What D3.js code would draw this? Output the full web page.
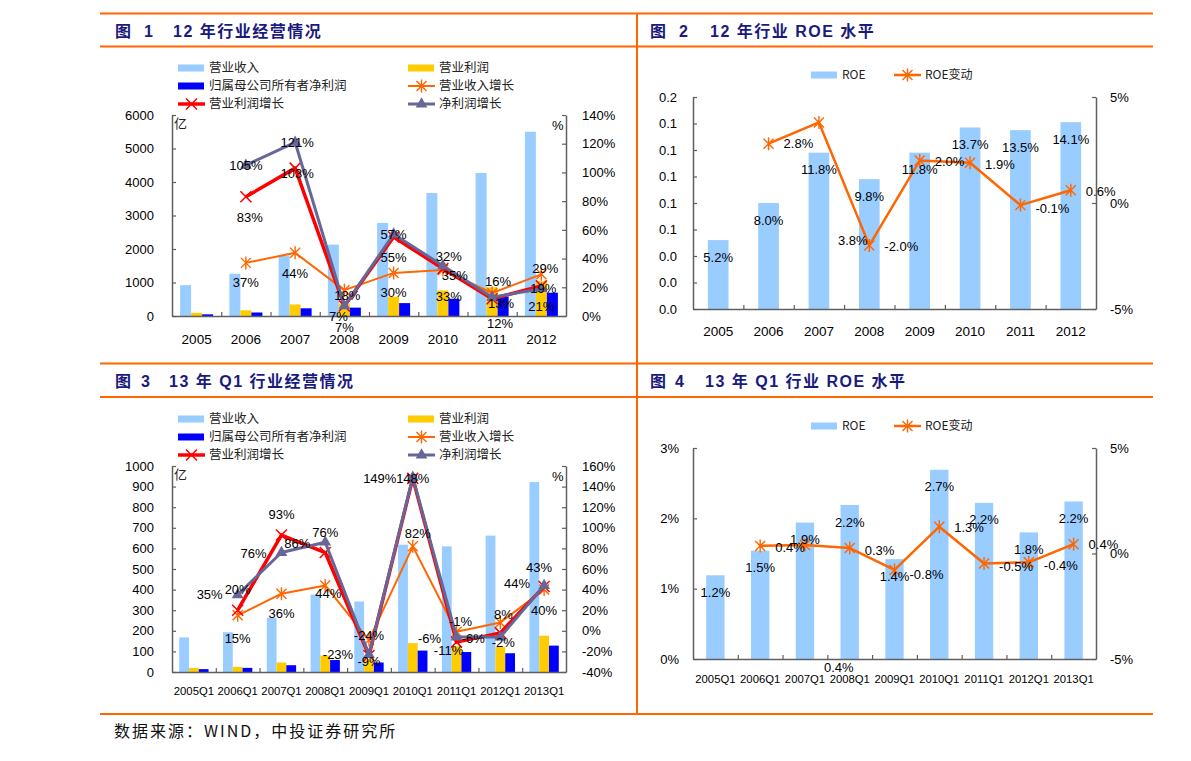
<!DOCTYPE html>
<html>
<head>
<meta charset="utf-8">
<script src="https://cdn.jsdelivr.net/npm/d3@7"></script>
<style>
  body { margin: 0; background: #fff; }
  svg { display: block; font-family: "Liberation Sans", Arial, "Noto Sans CJK SC", sans-serif; }
</style>
</head>
<body>
<svg id="chart"></svg>
<script>
// ---- data ----
let years = ['2005', '2006', '2007', '2008', '2009', '2010', '2011', '2012'];
let revenue12 = [920, 1260, 1800, 2130, 2780, 3670, 4270, 5500];
let opProfit12 = [95, 170, 345, 370, 575, 765, 860, 1040];
let netProfit12 = [50, 105, 230, 250, 385, 515, 580, 695];
let revGrowth12 = [null, 37, 44, 18, 30, 32, 16, 29];
let opGrowth12 = [null, 83, 103, 7, 55, 33, 12, 21];
let netGrowth12 = [null, 105, 121, 7, 57, 35, 13, 19];

let quarters = ['2005Q1', '2006Q1', '2007Q1', '2008Q1', '2009Q1', '2010Q1', '2011Q1', '2012Q1', '2013Q1'];
let revenue13 = [168, 193, 263, 376, 342, 618, 610, 662, 922];
let opProfit13 = [20, 25, 46, 80, 61, 140, 125, 122, 176];
let netProfit13 = [14, 20, 33, 58, 46, 104, 97, 91, 128];
let revGrowth13 = [null, 15, 36, 44, -9, 82, -1, 8, 40];
let opGrowth13 = [null, 20, 93, 76, -24, 148, -11, -2, 43];
let netGrowth13 = [null, 35, 76, 86, -23, 149, -6, -6, 44];

let roe12 = [0.052, 0.080, 0.118, 0.098, 0.118, 0.137, 0.135, 0.141];
let roeChange12 = [null, 2.8, 3.8, -2.0, 2.0, 1.9, -0.1, 0.6];

let roe13 = [1.19, 1.54, 1.94, 2.19, 1.42, 2.69, 2.22, 1.80, 2.24];
let roeChange13 = [null, 0.36, 0.40, 0.26, -0.78, 1.27, -0.47, -0.42, 0.44];

// ---- styles ----
let width = 1191;
let height = 761;
let ORANGE = '#FF6600';
let NAVY = '#1a1a7e';
let LIGHT = '#99CCFF';
let YELLOW = '#FFCC00';
let BLUE = '#0000FF';
let RED = '#FF0000';
let PURPLE = '#666699';
let AXIS = '#5f5f5f';
let CJK = '"Noto Sans CJK SC", sans-serif';

let svg = d3.select('#chart').attr('width', width).attr('height', height);

// ---- frame ----
let drawFrame = () => {
  let g = svg.append('g').attr('stroke', ORANGE).attr('stroke-width', 2);
  [[100, 13.5, 1153, 13.5], [100, 46.5, 1153, 46.5], [100, 363.5, 1153, 363.5],
   [100, 397, 1153, 397], [100, 714, 1153, 714], [637, 13.5, 637, 714]].forEach(l => {
    g.append('line').attr('x1', l[0]).attr('y1', l[1]).attr('x2', l[2]).attr('y2', l[3]);
  });
};

let drawTitle = (x, numX, restX, y, num, rest) => {
  let t = svg.append('text').attr('y', y).attr('dy', '0.35em')
    .attr('fill', NAVY).attr('font-weight', 'bold').attr('font-size', 16);
  t.append('tspan').attr('x', x).attr('font-family', CJK).text('图');
  t.append('tspan').attr('x', numX).text(num);
  t.append('tspan').attr('x', restX).attr('letter-spacing', 1.5).text(rest);
};

let drawMarker = (sel, type, color) => {
  if (type === 'star') {
    sel.append('path').attr('d', 'M-5,-5L5,5M-5,5L5,-5M0,-6.5L0,6.5')
      .attr('stroke', color).attr('stroke-width', 1.4).attr('fill', 'none');
  } else if (type === 'x') {
    sel.append('path').attr('d', 'M-5.5,-5.5L5.5,5.5M-5.5,5.5L5.5,-5.5')
      .attr('stroke', color).attr('stroke-width', 1.5).attr('fill', 'none');
  } else if (type === 'tri') {
    sel.append('path').attr('d', d3.symbol(d3.symbolTriangle, 60)())
      .attr('fill', color);
  }
};

let legendItem = (g, item, x, y, fontSize) => {
  if (item.kind === 'bar') {
    g.append('rect').attr('x', x).attr('y', y - 3.5).attr('width', 26).attr('height', 7)
      .attr('fill', item.color);
  } else {
    g.append('line').attr('x1', x).attr('x2', x + 27).attr('y1', y).attr('y2', y)
      .attr('stroke', item.color).attr('stroke-width', item.width);
    drawMarker(g.append('g').attr('transform', 'translate(' + (x + 13.5) + ',' + y + ')'),
      item.marker, item.color);
  }
  g.append('text').attr('x', x + 31).attr('y', y).attr('dy', '0.35em')
    .attr('font-family', CJK).attr('font-size', fontSize).attr('fill', '#222')
    .text(item.name);
};

let styleAxis = (g, fontSize) => {
  g.select('.domain').attr('stroke', AXIS).attr('stroke-width', 1.5);
  g.selectAll('.tick line').attr('stroke', AXIS).attr('stroke-width', 1.2);
  g.selectAll('text').attr('font-size', fontSize).attr('fill', '#000')
    .attr('font-family', '"Liberation Sans", Arial, sans-serif');
};

let drawCategoryAxis = (cats, left, right, bottom, labelOffset, fontSize) => {
  let n = cats.length;
  let edge = d3.scaleLinear().domain([0, n]).range([left, right]);
  let gx = svg.append('g').attr('transform', 'translate(0,' + bottom + ')')
    .call(d3.axisBottom(edge).tickValues(d3.range(1, n)).tickSizeInner(-4).tickSizeOuter(0).tickFormat(''));
  styleAxis(gx, fontSize);
  let band = d3.scaleBand().domain(cats).range([left, right]);
  let gl = svg.append('g').attr('transform', 'translate(0,' + bottom + ')')
    .call(d3.axisBottom(band).tickSize(0));
  gl.select('.domain').remove();
  styleAxis(gl, fontSize);
  gl.selectAll('text').attr('y', labelOffset).attr('dy', '0.35em');
};

// ---- combo chart (bars on left axis, growth lines on right axis) ----
let drawCombo = cfg => {
  let xg = d3.scaleBand().domain(cfg.cats).range([cfg.left, cfg.right])
    .paddingInner(0.33).paddingOuter(0.165);
  let sub = d3.scaleBand().domain(d3.range(cfg.bars.length)).range([0, xg.bandwidth()]);
  let band = d3.scaleBand().domain(cfg.cats).range([cfg.left, cfg.right]);
  let cx = c => band(c) + band.bandwidth() / 2;
  let yL = d3.scaleLinear().domain(cfg.leftDomain).range([cfg.bottom, cfg.top]);
  let yR = d3.scaleLinear().domain(cfg.rightDomain).range([cfg.bottom, cfg.top]);

  // legend
  let lg = svg.append('g');
  let items = cfg.bars.map(b => Object.assign({ kind: 'bar' }, b))
    .concat(cfg.lines.map(l => Object.assign({ kind: 'line' }, l)));
  items.forEach((it, k) => {
    legendItem(lg, it, cfg.legendCols[k % 2], cfg.legendRows[Math.floor(k / 2)], 12.5);
  });

  // bars
  cfg.bars.forEach((b, j) => {
    svg.append('g').selectAll('rect')
      .data(b.values)
      .enter()
      .append('rect')
      .attr('x', (d, i) => xg(cfg.cats[i]) + sub(j))
      .attr('width', sub.bandwidth())
      .attr('y', d => yL(d))
      .attr('height', d => cfg.bottom - yL(d))
      .attr('fill', b.color);
  });

  // axes
  let ga = svg.append('g').attr('transform', 'translate(' + cfg.left + ',0)')
    .call(d3.axisLeft(yL).tickValues(cfg.leftTicks).tickSizeInner(-4).tickSizeOuter(0)
      .tickPadding(18).tickFormat(d3.format('d')));
  styleAxis(ga, 13);
  let gr = svg.append('g').attr('transform', 'translate(' + cfg.right + ',0)')
    .call(d3.axisRight(yR).tickValues(cfg.rightTicks).tickSizeInner(-4).tickSizeOuter(0)
      .tickPadding(16).tickFormat(d => d + '%'));
  styleAxis(gr, 13);
  drawCategoryAxis(cfg.cats, cfg.left, cfg.right, cfg.bottom, cfg.xLabelOffset, cfg.xFont);

  svg.append('text').attr('x', cfg.left + 2).attr('y', cfg.top + 8).attr('dy', '0.35em')
    .attr('font-family', CJK).attr('font-size', 13).attr('fill', '#222').text('亿');
  svg.append('text').attr('x', cfg.right - 14).attr('y', cfg.top + 10).attr('dy', '0.35em')
    .attr('font-size', 13).attr('fill', '#000').text('%');

  // growth lines
  cfg.lines.forEach(l => {
    let line = d3.line()
      .defined(d => d !== null)
      .x((d, i) => cx(cfg.cats[i]))
      .y(d => yR(d));
    svg.append('path').datum(l.values)
      .attr('d', line)
      .attr('fill', 'none')
      .attr('stroke', l.color)
      .attr('stroke-width', l.width)
      .attr('stroke-linejoin', 'round');
    l.values.forEach((d, i) => {
      if (d === null) return;
      drawMarker(svg.append('g').attr('transform', 'translate(' + cx(cfg.cats[i]) + ',' + yR(d) + ')'),
        l.marker, l.color);
    });
  });

  // data labels
  cfg.lines.forEach(l => {
    l.values.forEach((d, i) => {
      if (d === null) return;
      let off = l.labels[i];
      svg.append('text')
        .attr('x', cx(cfg.cats[i]) + off[0])
        .attr('y', yR(d) + off[1])
        .attr('dy', '0.35em')
        .attr('text-anchor', 'middle')
        .attr('font-size', 13)
        .attr('fill', '#000')
        .text(d + '%');
    });
  });
};

// ---- ROE chart (bars on left axis, change line on right axis) ----
let drawRoe = cfg => {
  let xb = d3.scaleBand().domain(cfg.cats).range([cfg.left, cfg.right])
    .paddingInner(0.59).paddingOuter(0.295);
  let band = d3.scaleBand().domain(cfg.cats).range([cfg.left, cfg.right]);
  let cx = c => band(c) + band.bandwidth() / 2;
  let yL = d3.scaleLinear().domain(cfg.leftDomain).range([cfg.bottom, cfg.top]);
  let yR = d3.scaleLinear().domain([-5, 5]).range([cfg.bottom, cfg.top]);

  let lg = svg.append('g');
  legendItem(lg, { kind: 'bar', name: 'ROE', color: LIGHT }, cfg.legendCols[0], cfg.legendY, 12);
  legendItem(lg, { kind: 'line', name: 'ROE变动', color: ORANGE, width: 2.5, marker: 'star' },
    cfg.legendCols[1], cfg.legendY, 12);

  svg.append('g').selectAll('rect')
    .data(cfg.roe)
    .enter()
    .append('rect')
    .attr('x', (d, i) => xb(cfg.cats[i]))
    .attr('width', xb.bandwidth())
    .attr('y', d => yL(d))
    .attr('height', d => cfg.bottom - yL(d))
    .attr('fill', LIGHT);

  let ga = svg.append('g').attr('transform', 'translate(' + cfg.left + ',0)')
    .call(d3.axisLeft(yL).tickValues(cfg.leftTicks).tickSizeInner(-4).tickSizeOuter(0)
      .tickPadding(cfg.leftPad).tickFormat(cfg.leftFormat));
  styleAxis(ga, 13);
  let gr = svg.append('g').attr('transform', 'translate(' + cfg.right + ',0)')
    .call(d3.axisRight(yR).tickValues([-5, 0, 5]).tickSizeInner(-4).tickSizeOuter(0)
      .tickPadding(14).tickFormat(d => d + '%'));
  styleAxis(gr, 13);
  drawCategoryAxis(cfg.cats, cfg.left, cfg.right, cfg.bottom, cfg.xLabelOffset, cfg.xFont);

  let line = d3.line()
    .defined(d => d !== null)
    .x((d, i) => cx(cfg.cats[i]))
    .y(d => yR(d));
  svg.append('path').datum(cfg.change)
    .attr('d', line)
    .attr('fill', 'none')
    .attr('stroke', ORANGE)
    .attr('stroke-width', 2.5)
    .attr('stroke-linejoin', 'round');
  cfg.change.forEach((d, i) => {
    if (d === null) return;
    drawMarker(svg.append('g').attr('transform', 'translate(' + cx(cfg.cats[i]) + ',' + yR(d) + ')'),
      'star', ORANGE);
  });

  // bar labels
  cfg.roe.forEach((d, i) => {
    svg.append('text')
      .attr('x', cx(cfg.cats[i]))
      .attr('y', yL(d) + 17)
      .attr('dy', '0.35em')
      .attr('text-anchor', 'middle')
      .attr('font-size', 13)
      .text(cfg.barFormat(d));
  });
  // change labels
  cfg.change.forEach((d, i) => {
    if (d === null) return;
    let off = cfg.changeLabels[i];
    svg.append('text')
      .attr('x', cx(cfg.cats[i]) + off[0])
      .attr('y', yR(d) + off[1])
      .attr('dy', '0.35em')
      .attr('text-anchor', 'start')
      .attr('font-size', 13)
      .text(d.toFixed(1) + '%');
  });
};

// ---- draw ----
drawFrame();
drawTitle(115, 144, 173, 31, '1', '12 年行业经营情况');
drawTitle(650, 679, 710, 31, '2', '12 年行业 ROE 水平');
drawTitle(115, 141, 169, 381, '3', '13 年 Q1 行业经营情况');
drawTitle(650, 675, 705, 381, '4', '13 年 Q1 行业 ROE 水平');

drawCombo({
  cats: years, left: 172, right: 566, top: 115, bottom: 316,
  leftDomain: [0, 6000], leftTicks: d3.range(0, 6001, 1000),
  rightDomain: [0, 140], rightTicks: d3.range(0, 141, 20),
  xLabelOffset: 23, xFont: 13.5,
  legendCols: [178, 408], legendRows: [68, 86, 104],
  bars: [
    { name: '营业收入', values: revenue12, color: LIGHT },
    { name: '营业利润', values: opProfit12, color: YELLOW },
    { name: '归属母公司所有者净利润', values: netProfit12, color: BLUE }
  ],
  lines: [
    { name: '营业收入增长', values: revGrowth12, color: ORANGE, width: 2, marker: 'star',
      labels: [null, [0, 20], [0, 21], [3, 5], [0, 20], [6, -14], [6, -12], [4, -6]] },
    { name: '营业利润增长', values: opGrowth12, color: RED, width: 3.5, marker: 'x',
      labels: [null, [4, 21], [2, 5], [0, 21], [0, 20], [6, 28], [8, 25], [0, 21]] },
    { name: '净利润增长', values: netGrowth12, color: PURPLE, width: 3, marker: 'tri',
      labels: [null, [0, 0], [2, 0], [-6, 10], [0, 0], [12, 10], [9, 6], [2, 0]] }
  ]
});

drawCombo({
  cats: quarters, left: 172, right: 566, top: 466, bottom: 672,
  leftDomain: [0, 1000], leftTicks: d3.range(0, 1001, 100),
  rightDomain: [-40, 160], rightTicks: d3.range(-40, 161, 20),
  xLabelOffset: 19, xFont: 11.3,
  legendCols: [178, 408], legendRows: [419, 437, 455],
  bars: [
    { name: '营业收入', values: revenue13, color: LIGHT },
    { name: '营业利润', values: opProfit13, color: YELLOW },
    { name: '归属母公司所有者净利润', values: netProfit13, color: BLUE }
  ],
  lines: [
    { name: '营业收入增长', values: revGrowth13, color: ORANGE, width: 2, marker: 'star',
      labels: [null, [0, 23], [0, 20], [3, 8], [0, 21], [5, -13], [4, -10], [3, -8], [0, 21]] },
    { name: '营业利润增长', values: opGrowth13, color: RED, width: 3.5, marker: 'x',
      labels: [null, [0, -21], [0, -21], [0, -20], [0, -20], [0, 0], [-8, 8], [3, 10], [-5, -19]] },
    { name: '净利润增长', values: netGrowth13, color: PURPLE, width: 3, marker: 'tri',
      labels: [null, [-28, 0], [-28, 1], [-28, 1], [-31, 0], [-33, 1], [-27, 1], [-27, 1], [-27, -2]] }
  ]
});

drawRoe({
  cats: years, left: 693, right: 1096, top: 97, bottom: 309,
  leftDomain: [0, 0.16], leftTicks: d3.range(0, 9).map(i => i * 0.02),
  leftFormat: d3.format('.1f'), leftPad: 16,
  xLabelOffset: 22, xFont: 13.5,
  legendCols: [811, 894], legendY: 75,
  roe: roe12, change: roeChange12,
  barFormat: d3.format('.1%'),
  changeLabels: [null, [15, 0], [19, 118], [15, 1], [15, 1], [15, 2], [15, 3], [15, 1]]
});

drawRoe({
  cats: quarters, left: 693, right: 1096, top: 448, bottom: 659,
  leftDomain: [0, 3], leftTicks: [0, 1, 2, 3],
  leftFormat: d => d + '%', leftPad: 14,
  xLabelOffset: 20, xFont: 11.3,
  legendCols: [811, 894], legendY: 426,
  roe: roe13, change: roeChange13,
  barFormat: d => d.toFixed(1) + '%',
  changeLabels: [null, [15, 2], [19, 122], [15, 2], [15, 4], [15, 1], [15, 3], [15, 3], [15, 0]]
});

// footer
svg.append('text').attr('x', 114).attr('y', 731).attr('dy', '0.35em')
  .attr('font-family', CJK).attr('font-size', 16).attr('letter-spacing', 2).attr('fill', '#111')
  .text('数据来源：WIND，中投证券研究所');
</script>
</body>
</html>
